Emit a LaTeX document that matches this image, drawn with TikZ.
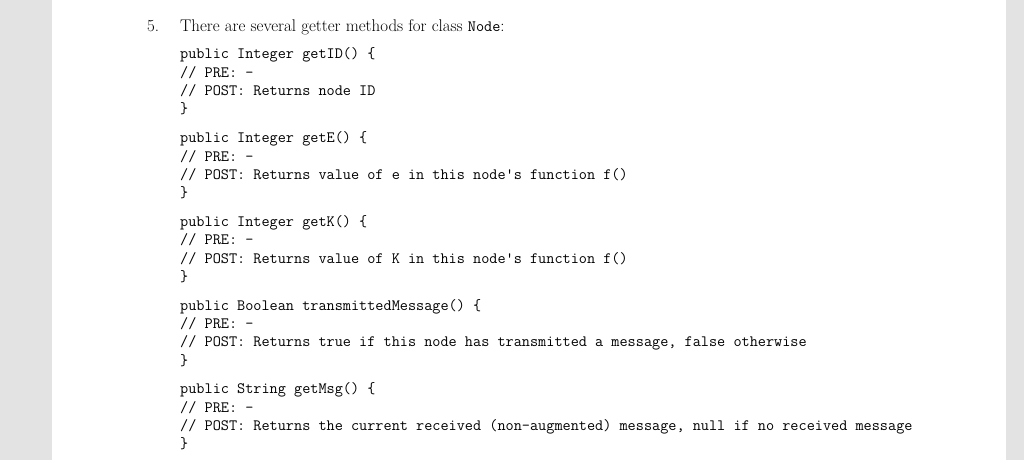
\documentclass[tikz,border=0pt]{standalone}
\begin{document}
\begin{tikzpicture}[x=1pt,y=-1pt,
  code/.style={anchor=base west,inner sep=0pt,font=\ttfamily\fontsize{15.8}{18}\selectfont,text=black},
  prose/.style={anchor=base west,inner sep=0pt,font=\fontsize{16.9}{18}\selectfont,text=black}]
\fill[black!11] (0,0) rectangle (1024,460);
\fill[white] (52,0) rectangle (1006,460);
\useasboundingbox (0,0) rectangle (1024,460);
\node[code] (top) at (180,-2) {\}};
\node[prose] (num) at (147,32) {5.};
\node[prose] (intro) at (180,32) {There are several getter methods for class {\ttfamily\fontsize{15.8}{18}\selectfont Node}:};
\def\blk#1#2#3#4{%
  \node[code] (#1a) at (180,#2) {#3};
  \node[code] (#1b) at (180,#2+18.3) {// PRE: -};
  \node[code] (#1c) at (180,#2+36.6) {#4};
  \node[code] (#1d) at (180,#2+54.9) {\}};}
\blk{b1}{59}{public Integer getID() \{}{// POST: Returns node ID}
\blk{b2}{142.7}{public Integer getE() \{}{// POST: Returns value of e in this node's function f()}
\blk{b3}{226.4}{public Integer getK() \{}{// POST: Returns value of K in this node's function f()}
\blk{b4}{310.1}{public Boolean transmittedMessage() \{}{// POST: Returns true if this node has transmitted a message, false otherwise}
\blk{b5}{393.8}{public String getMsg() \{}{// POST: Returns the current received (non-augmented) message, null if no received message}
\end{tikzpicture}
\end{document}
